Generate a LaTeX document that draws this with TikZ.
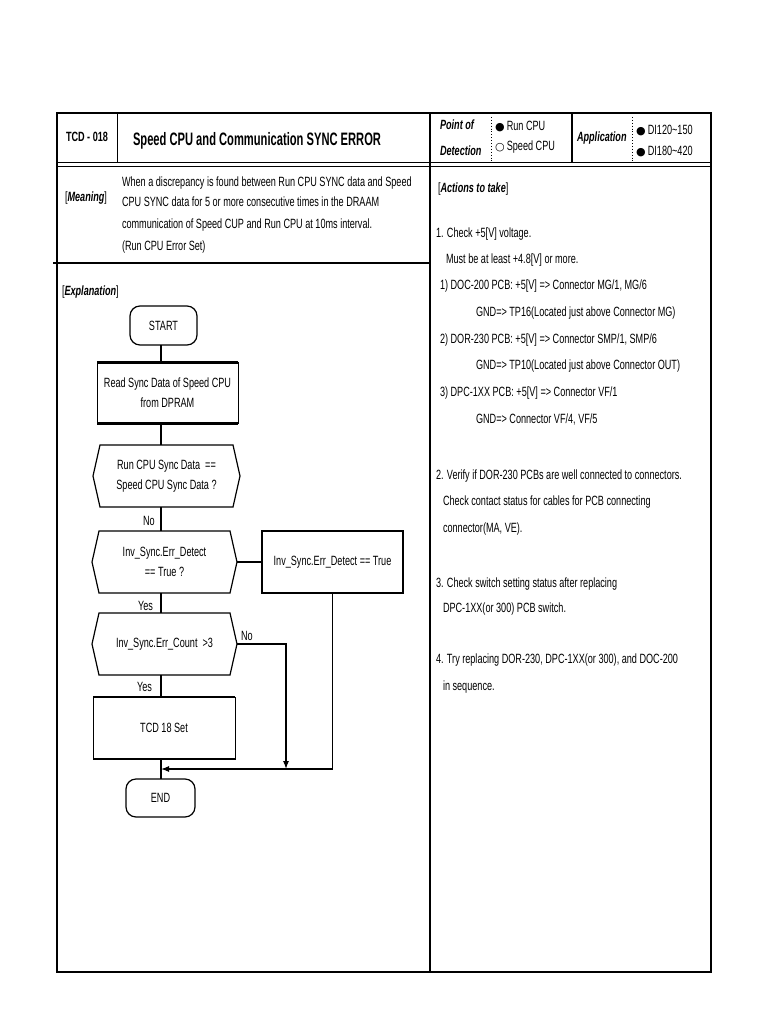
\documentclass[tikz,border=0pt]{standalone}
\usepackage{fontspec}
\setmainfont{Liberation Sans}[FakeStretch=0.68]
\newfontfamily\titlef{Liberation Sans}[FakeStretch=0.62]
\newfontfamily\symf{DejaVu Sans}
\usetikzlibrary{arrows.meta}
\tikzset{
  base/.style={inner sep=0pt, outer sep=0pt, font=\fontsize{13.4}{15}\selectfont},
  txt/.style={base, anchor=base west},
  term/.style={base, draw, line width=1.2pt, rounded corners=10pt},
  procbox/.style={base, draw, line width=0.8pt, align=center, font=\fontsize{13.4}{20}\selectfont},
  decbox/.style={base, align=center, font=\fontsize{13.4}{20}\selectfont},
  conn/.style={line width=1.1pt},
  arr/.style={line width=1.1pt, -{Latex[length=8pt,width=6pt]}},
}
\newcommand{\hexa}[1]{\draw[line width=1.2pt] (#1.west) -- ([xshift=7pt]#1.north west) -- ([xshift=-7pt]#1.north east) -- (#1.east) -- ([xshift=-7pt]#1.south east) -- ([xshift=7pt]#1.south west) -- cycle;}
\newcommand{\thickedges}[1]{\draw[line width=2.6pt] (#1.north west) -- (#1.north east); \draw[line width=2.6pt] (#1.south west) -- (#1.south east);}
\begin{document}
\begin{tikzpicture}[x=1pt,y=-1pt]
\useasboundingbox (0,0) rectangle (768,1024);
% ---------- frame ----------
\draw[line width=2.8pt] (57,113) rectangle (711,972);
\draw[line width=1pt] (57,163) -- (711,163);
\draw[line width=1pt] (57,167) -- (711,167);
\draw[line width=1pt] (117,113) -- (117,163);
\draw[line width=1.8pt] (430,113) -- (430,972);
\draw[line width=1.5pt] (572,113) -- (572,163);
\draw[line width=0.9pt, dotted] (491,117) -- (491,162);
\draw[line width=0.9pt, dotted] (632,117) -- (632,162);
\draw[line width=2.6pt] (53,263) -- (430,263);
% ---------- header ----------
\node[txt, font=\fontsize{13.4}{15}\selectfont\bfseries] (tcd) at (66,142) {TCD - 018};
\node[txt, font=\fontsize{18}{20}\selectfont\titlef\bfseries] (title) at (133,146) {Speed CPU and Communication SYNC ERROR};
\node[txt, font=\fontsize{13.4}{15}\selectfont\bfseries\itshape] (pod1) at (440,130) {Point of};
\node[txt, font=\fontsize{13.4}{15}\selectfont\bfseries\itshape] (pod2) at (440,156) {Detection};
\node[txt] (run) at (495,131) {{\symf\fontsize{11}{13}\selectfont ●}\,Run CPU};
\node[txt] (spd) at (495,151) {{\symf\fontsize{11}{13}\selectfont ○}\,Speed CPU};
\node[txt, font=\fontsize{13.4}{15}\selectfont\bfseries\itshape] (app) at (577,142) {Application};
\node[txt] (di1) at (636,135) {{\symf\fontsize{11}{13}\selectfont ●}\,DI120\textasciitilde150};
\node[txt] (di2) at (636,156) {{\symf\fontsize{11}{13}\selectfont ●}\,DI180\textasciitilde420};
% ---------- meaning ----------
\node[txt] (mlab) at (65,202) {[\textbf{\textit{Meaning}}]};
\node[txt] (m1) at (122,187) {When a discrepancy is found between Run CPU SYNC data and Speed};
\node[txt] (m2) at (122,207) {CPU SYNC data for 5 or more consecutive times in the DRAAM};
\node[txt] (m3) at (122,229) {communication of Speed CUP and Run CPU at 10ms interval.};
\node[txt] (m4) at (122,250) {(Run CPU Error Set)};
\node[txt] (expl) at (62,295) {[\textbf{\textit{Explanation}}]};
% ---------- actions ----------
\node[txt] (act) at (438,193) {[\textbf{\textit{Actions to take}}]};
\node[txt] (a1) at (436,237) {1. Check +5[V] voltage.};
\node[txt] (a2) at (446,263) {Must be at least +4.8[V] or more.};
\node[txt] (a3) at (440,289) {1) DOC-200 PCB: +5[V] => Connector MG/1, MG/6};
\node[txt] (a4) at (476,316) {GND=> TP16(Located just above Connector MG)};
\node[txt] (a5) at (440,343) {2) DOR-230 PCB: +5[V] => Connector SMP/1, SMP/6};
\node[txt] (a6) at (476,369) {GND=> TP10(Located just above Connector OUT)};
\node[txt] (a7) at (440,396) {3) DPC-1XX PCB: +5[V] => Connector VF/1};
\node[txt] (a8) at (476,423) {GND=> Connector VF/4, VF/5};
\node[txt] (b1) at (436,479) {2. Verify if DOR-230 PCBs are well connected to connectors.};
\node[txt] (b2) at (443,505) {Check contact status for cables for PCB connecting};
\node[txt] (b3) at (443,532) {connector(MA, VE).};
\node[txt] (c1) at (436,587) {3. Check switch setting status after replacing};
\node[txt] (c2) at (443,612) {DPC-1XX(or 300) PCB switch.};
\node[txt] (d1) at (436,663) {4. Try replacing DOR-230, DPC-1XX(or 300), and DOC-200};
\node[txt] (d2) at (443,690) {in sequence.};
% ---------- flowchart ----------
\coordinate (sp) at (161,0);
\node[term, minimum width=67pt, minimum height=39pt] (start) at (163.5,325.5) {START};
\node[procbox, minimum width=141pt, minimum height=61pt] (read) at (167.5,393) {Read Sync Data of Speed CPU\\from DPRAM};
\thickedges{read}
\node[decbox, minimum width=147pt, minimum height=62pt] (dec1) at (166.5,476) {Run CPU Sync Data\ \ ==\\Speed CPU Sync Data ?};
\hexa{dec1}
\node[decbox, minimum width=145pt, minimum height=62pt] (dec2) at (164.5,562) {Inv\_Sync.Err\_Detect\\== True ?};
\hexa{dec2}
\node[procbox, line width=1.2pt, minimum width=141pt, minimum height=62pt] (rbox) at (332.5,562) {Inv\_Sync.Err\_Detect == True};
\node[decbox, minimum width=145pt, minimum height=62pt] (dec3) at (164.5,644) {Inv\_Sync.Err\_Count\ \ >3};
\hexa{dec3}
\node[procbox, minimum width=142pt, minimum height=62pt] (tcdset) at (164,728) {TCD 18 Set};
\thickedges{tcdset}
\node[term, minimum width=69pt, minimum height=38pt] (end) at (160.5,798) {END};
\coordinate (j1) at (286,769);
\coordinate (jm) at (161,769);
\draw[conn] (start.south -| sp) -- (read.north -| sp);
\draw[conn] (read.south -| sp) -- (dec1.north -| sp);
\draw[conn] (dec1.south -| sp) -- (dec2.north -| sp);
\draw[conn] (dec2.south -| sp) -- (dec3.north -| sp);
\draw[conn] (dec3.south -| sp) -- (tcdset.north -| sp);
\draw[conn] (tcdset.south -| sp) -- (end.north -| sp);
\draw[conn] (dec2.east) -- (rbox.west);
\draw[arr] (dec3.east) -| (j1);
\draw[arr] (rbox.south) |- (jm);
\node[txt] (no1) at (143,525) {No};
\node[txt] (yes1) at (138,610) {Yes};
\node[txt] (no2) at (241,640) {No};
\node[txt] (yes2) at (137,691) {Yes};
\end{tikzpicture}
\end{document}
